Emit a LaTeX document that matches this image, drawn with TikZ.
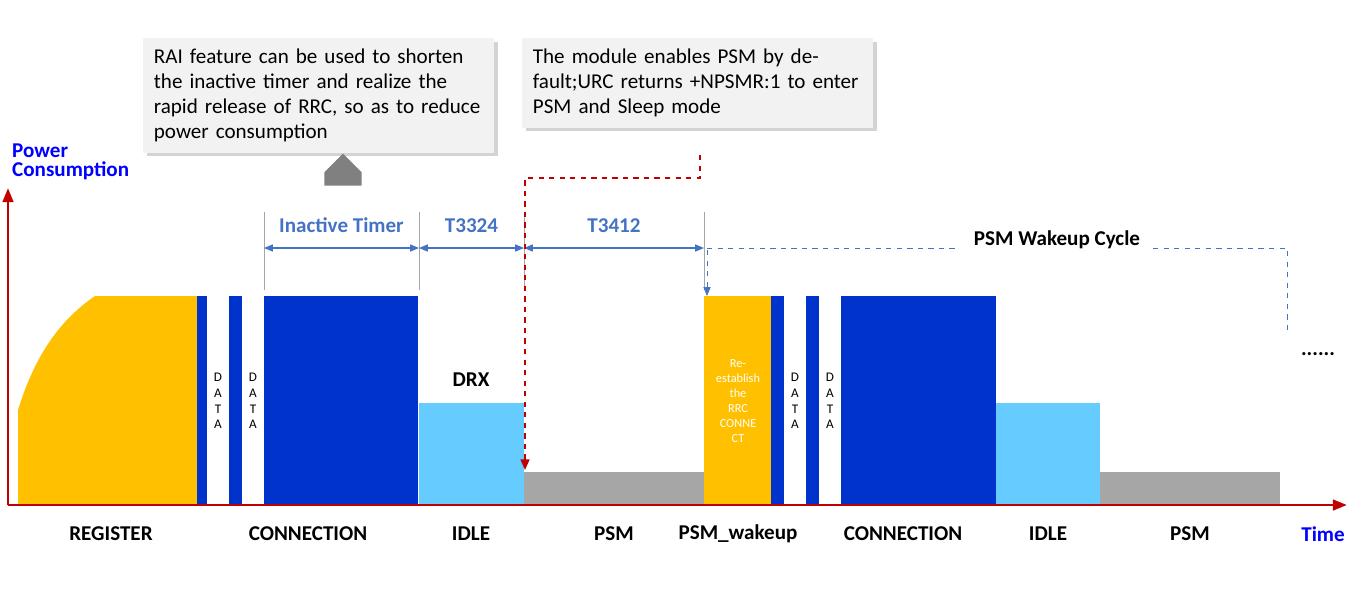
\documentclass[tikz,border=0pt]{standalone}
\usepackage{fontspec}
\setmainfont{Carlito}
\usetikzlibrary{arrows.meta,shapes.arrows,shadows}
\definecolor{axisred}{HTML}{C00000}
\definecolor{regyellow}{HTML}{FFC000}
\definecolor{connblue}{HTML}{0033CC}
\definecolor{idleblue}{HTML}{66CCFF}
\definecolor{psmgray}{HTML}{A6A6A6}
\definecolor{timerblue}{HTML}{4472C4}
\definecolor{notegray}{HTML}{F2F2F2}
\begin{document}
\begin{tikzpicture}[x=0.02cm,y=-0.02cm,
  axis/.style={axisred,line width=1.6pt,-{Triangle[length=8pt,width=6pt]}},
  bar/.style={fill=#1,draw=none},
  lbl/.style={font=\fontsize{12}{14}\selectfont\bfseries},
  tick/.style={gray!70,line width=0.4pt},
  span/.style={timerblue,line width=0.6pt,{Triangle[length=5pt,width=4pt]}-{Triangle[length=5pt,width=4pt]}},
  note/.style={fill=notegray,draw=none,drop shadow={shadow xshift=2pt,shadow yshift=-2pt,opacity=0.35},text width=6.6cm,align=left,inner sep=6pt,font=\fontsize{12}{14.3}\selectfont,anchor=north west},
  datatxt/.style={font=\fontsize{7.5}{9}\selectfont,align=center}]
\useasboundingbox (0,0) rectangle (1363,610);
% bars
\path[bar=regyellow] (18,505) -- (18,410) .. controls (35,355) and (60,320) .. (95,296) -- (197,296) -- (197,505) -- cycle;
\foreach \a/\b in {197/207,229/242,264/418,771/784,806/819,841/996}
  \path[bar=connblue] (\a,296) rectangle (\b,505);
\path[bar=idleblue] (419,403) rectangle (524,505);
\path[bar=idleblue] (996,403) rectangle (1100,505);
\path[bar=psmgray] (524,472) rectangle (704,505);
\path[bar=psmgray] (1100,472) rectangle (1280,505);
\path[bar=regyellow] (704,296) rectangle (771,505);
\node[datatxt,text=white,font=\fontsize{7}{8.5}\selectfont] (rrc) at (738,401) {Re-\\establish\\the\\RRC\\CONNE\\CT};
\foreach \x/\n in {218/d1,253/d2,795/d3,830/d4}
  \node[datatxt] (\n) at (\x,401) {D\\A\\T\\A};
\node[lbl] (drx) at (471,380) {DRX};
\node[font=\bfseries\large] (dots) at (1318,354) {......};
% axes
\coordinate (origin) at (8,505);
\coordinate (ytop) at (8,188);
\coordinate (xend) at (1347,505);
\draw[axis] (origin) -- (ytop);
\draw[axis] (origin) -- (xend);
\node[lbl,text=blue,align=left,anchor=west] (ylabel) at (6,162) {Power\\[-3pt]Consumption};
\node[lbl,text=blue] (xlabel) at (1323,534) {Time};
% timers
\foreach \x/\n in {264/t0,419/t1,524/t2,704/t3}{
  \coordinate (\n) at (\x,248);
  \draw[tick] (\x,212) -- (\x,290);
}
\draw[span] (t0) -- node[lbl,above=5pt] {Inactive Timer} (t1);
\draw[span] (t1) -- node[lbl,above=5pt] {T3324} (t2);
\draw[span] (t2) -- node[lbl,above=5pt] {T3412} (t3);
\coordinate (cycR) at (1287,333);
\draw[timerblue,dashed,line width=0.5pt] (707,248) -- (960,248);
\draw[timerblue,dashed,line width=0.5pt] (1153,248) -- (1287,248) -- (cycR);
\node[lbl] (cycle) at (1057,240) {PSM Wakeup Cycle};
\draw[timerblue,dashed,line width=0.5pt,-{Triangle[length=5pt,width=4pt]}] (707,250) -- (707,296);
% notes
\node[note] (rai) at (143,38) {RAI feature can be used to shorten the inactive timer and realize the rapid release of RRC, so as to reduce power consumption};
\node[note] (psmnote) at (522,38) {The module enables PSM by default;URC returns +NPSMR:1 to enter PSM and Sleep mode};
\node[single arrow,fill=gray,draw=none,shape border rotate=90,minimum height=0.64cm,minimum width=0.75cm,single arrow head extend=0cm,inner sep=0pt] (up) at (343,179) {};
\coordinate (drop) at (525,470);
\draw[axisred,dashed,line width=1.1pt,-{Triangle[length=6pt,width=5pt]}] (700,155) -- (700,178) -- (525,178) -- (drop);
% phases
\foreach \x/\t/\n in {111/REGISTER/p1,308/CONNECTION/p2,471/IDLE/p3,614/PSM/p4,738/PSM\_wakeup/p5,903/CONNECTION/p6,1048/IDLE/p7,1190/PSM/p8}
  \node[lbl] (\n) at (\x,534) {\t};
\end{tikzpicture}
\end{document}
